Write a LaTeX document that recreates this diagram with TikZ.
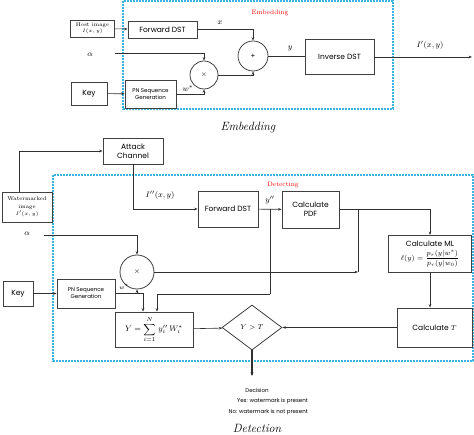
\documentclass[tikz,border=0pt]{standalone}
\usepackage{fontspec}
\setsansfont{Poppins}
\usepackage{amsmath}
\usetikzlibrary{arrows.meta,shapes.geometric}
\definecolor{dashblue}{HTML}{3BB3E0}
\definecolor{boxgray}{HTML}{404040}
\definecolor{linegray}{HTML}{303030}
\tikzset{
  blk/.style={draw=boxgray,line width=0.8pt,rectangle,inner sep=0pt,align=center,font=\sffamily\fontsize{7.5}{9}\selectfont},
  smallblk/.style={blk,font=\sffamily\fontsize{5.5}{7}\selectfont},
  serifblk/.style={blk,font=\rmfamily\fontsize{5.5}{7.5}\selectfont},
  opcirc/.style={draw=boxgray,line width=0.8pt,circle,inner sep=0pt,font=\sffamily\fontsize{7}{8}\selectfont},
  conn/.style={draw=linegray,line width=0.6pt},
  arr/.style={conn,-{Stealth[length=3.5pt,width=2.6pt]}},
  lbl/.style={inner sep=0pt,font=\fontsize{8}{9}\selectfont},
  region/.style={draw=dashblue,line width=1.2pt,dash pattern=on 2pt off 1pt},
  redlbl/.style={inner sep=0pt,text=red,font=\rmfamily\fontsize{6.5}{8}\selectfont},
  caption/.style={inner sep=0pt,font=\rmfamily\itshape\fontsize{12}{14}\selectfont},
  dectext/.style={inner sep=0pt,font=\sffamily\fontsize{5.5}{7}\selectfont}
}
\begin{document}
\begin{tikzpicture}[x=1pt,y=-1pt]
\useasboundingbox (0,0) rectangle (474,435);

% ---------------- Embedding ----------------
\draw[region] (123,1) rectangle (393,109);
\node[redlbl] (embl) at (270,13) {Embedding};

\node[serifblk,minimum width=44pt,minimum height=17pt] (host) at (92.5,28.5) {Host image\\[-1.5pt]$I(x,y)$};
\node[blk,minimum width=69pt,minimum height=17pt] (fdsta) at (162.5,29.5) {Forward DST};
\node[opcirc,minimum size=30pt] (plus) at (253,56) {+};
\node[opcirc,minimum size=28pt] (multa) at (204,75) {$\times$};
\node[blk,minimum width=36pt,minimum height=23pt] (keya) at (89,93.5) {Key};
\node[smallblk,minimum width=51pt,minimum height=28pt] (pna) at (150.5,94) {PN Sequence\\Generation};
\node[blk,minimum width=69pt,minimum height=35pt] (idst) at (339.5,57) {Inverse DST};
\coordinate (outa) at (472,57);
\coordinate (alphaa) at (115,53);

\node[lbl] (alab) at (90,55) {$\alpha$};
\node[lbl] (xlab) at (220,23) {$x$};
\node[lbl] (wlaba) at (188,89) {$w^{*}$};
\node[lbl] (ylab) at (290,49) {$y$};
\node[lbl] (olab) at (430,45) {$I'(x,y)$};

\draw[arr] (host) -- (fdsta);
\draw[arr] (fdsta.east) -| (plus.north);
\draw[arr] (alphaa) -| (multa.north);
\draw[arr] (keya) -- (pna);
\draw[arr] (pna.east) -| (multa.south);
\draw[arr] (multa.east) -| (plus.south);
\draw[conn] (plus.east) -- (plus.east -| idst.west);
\draw[arr] (idst.east) -- (outa);

\node[caption] (capa) at (248,128) {Embedding};

% ---------------- Detection ----------------
\draw[region] (53,175) rectangle (473,361);
\node[redlbl] (detl) at (283,185) {Detecting};

\node[serifblk,minimum width=50pt,minimum height=30pt] (wm) at (27,207) {Watermarked\\image\\$I'(x,y)$};
\node[blk,minimum width=60pt,minimum height=26pt] (attack) at (133,151) {Attack\\Channel};
\node[blk,minimum width=60pt,minimum height=36pt] (fdstb) at (228,209) {Forward DST};
\node[blk,minimum width=57pt,minimum height=37pt] (pdf) at (310.5,209.5) {Calculate\\PDF};
\node[blk,minimum width=83pt,minimum height=37pt] (ml) at (430,254) {Calculate ML\\[2.5pt]{\fontsize{7}{8}\selectfont$\ell(y)=\dfrac{p_r(y|w^{*})}{p_r(y|w_0)}$}};
\node[blk,minimum width=75pt,minimum height=39pt] (calct) at (434.5,327.5) {Calculate $T$};
\node[draw=boxgray,line width=0.8pt,diamond,inner sep=0pt,minimum width=60pt,minimum height=45pt,font=\fontsize{7}{8}\selectfont] (dia) at (252,327.5) {$Y>T$};
\node[blk,minimum width=78pt,minimum height=35pt,font=\fontsize{8}{9}\selectfont] (sum) at (154,329.5) {$Y=\displaystyle\sum_{i=1}^{N}\,y''_i\,W_i^{*}$};
\node[opcirc,minimum size=34pt] (multb) at (137,272) {$\times$};
\node[blk,minimum width=30pt,minimum height=25pt] (keyb) at (18,293.5) {Key};
\node[smallblk,minimum width=58pt,minimum height=29pt] (pnb) at (86,293.5) {PN Sequence\\Generation};

\coordinate (alphab) at (44,235);
\coordinate (ysplit) at (270,209);
\coordinate (ydown) at (270,294);
\coordinate (mljoin) at (358,209);
\coordinate (wsplit) at (137,293.5);
\coordinate (wright) at (143,293.5);
\coordinate (decend) at (252,376);
\coordinate (attturn) at (133,209);

\node[lbl] (blab) at (27,234) {$\alpha$};
\node[lbl] (iplab) at (160,195) {$I''(x,y)$};
\node[lbl] (yplab) at (270,200) {$y''$};
\node[lbl] (wlabb) at (124,287) {\fontsize{6}{7}\selectfont$w^{*}$};

\draw[arr] ([xshift=-8pt]wm.north) |- (attack.west);
\draw[conn] (attack.south) -- (attturn);
\draw[arr] (attturn) -- (fdstb.west);
\draw[arr] (fdstb) -- (pdf);
\draw[arr] (pdf.east) -| (ml.north);
\draw[conn] (ysplit) -- (ydown);
\draw[arr] (ydown) -| ([xshift=3pt]sum.north);
\draw[arr] (alphab) -| (multb.north);
\draw[arr] (multb.east) -- (multb.east -| mljoin);
\draw[conn] (mljoin) -- (multb.east -| mljoin);
\draw[arr] (keyb) -- (pnb);
\draw[conn] (pnb.east) -- (wright);
\draw[arr] (wsplit) -- (multb.south);
\draw[arr] (wright) -- (wright |- sum.north);
\draw[arr] (ml.south) -- (ml.south |- calct.north);
\draw[arr] (sum) -- (dia);
\draw[arr] (calct) -- (dia);
\draw[draw=linegray,line width=1.3pt,-{Stealth[length=3.5pt,width=3pt]}] (dia.south) -- (decend);

\node[dectext] (dec1) at (257,390) {Decision};
\node[dectext,anchor=east] (dec2) at (308,401) {Yes: watermark is present};
\node[dectext,anchor=east] (dec3) at (308,412) {No: watermark is not present};
\node[caption] (capb) at (257,428) {Detection};
\end{tikzpicture}
\end{document}
